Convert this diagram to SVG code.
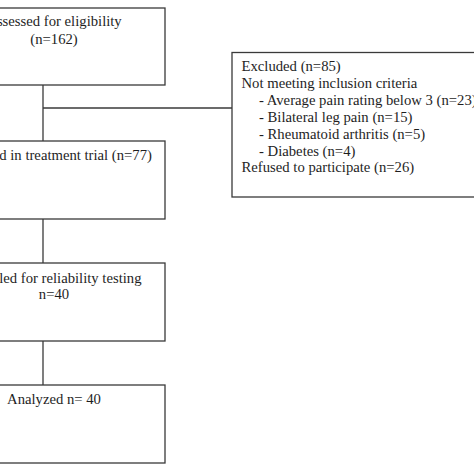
<svg xmlns="http://www.w3.org/2000/svg" width="474" height="474" viewBox="0 0 474 474">
<style>
.box{fill:#fff;stroke:#3a3a3a;stroke-width:1.3}
.ln{fill:none;stroke:#3a3a3a;stroke-width:1.3}
text{font-family:"Liberation Serif","Times New Roman",serif;font-size:14.7px;fill:#1e1e1e}
.c{text-anchor:middle}
</style>
<rect width="474" height="474" fill="#fff"/>
<g id="connectors">
<line class="ln" x1="43" y1="85" x2="43" y2="141"/>
<line class="ln" x1="43" y1="108" x2="232" y2="108"/>
<line class="ln" x1="43" y1="219" x2="43" y2="263"/>
<line class="ln" x1="43" y1="341" x2="43" y2="385"/>
</g>
<g id="assessed">
<rect class="box" x="-57" y="8" width="222" height="77"/>
<text class="c" x="54" y="25.5">Assessed for eligibility</text>
<text class="c" x="54" y="43.5">(n=162)</text>
</g>
<g id="excluded">
<rect class="box" x="232" y="52.5" width="260" height="144.5"/>
<text x="241.5" y="70.7">Excluded (n=85)</text>
<text x="241.5" y="87.7">Not meeting inclusion criteria</text>
<text x="259" y="104.8">- Average pain rating below 3 (n=23)</text>
<text x="259" y="121.7">- Bilateral leg pain (n=15)</text>
<text x="259" y="138.7">- Rheumatoid arthritis (n=5)</text>
<text x="259" y="155.6">- Diabetes (n=4)</text>
<text x="241.5" y="172.4">Refused to participate (n=26)</text>
</g>
<g id="enrolled-trial">
<rect class="box" x="-57" y="141" width="222" height="78"/>
<text class="c" x="54" y="160">Enrolled in treatment trial (n=77)</text>
</g>
<g id="enrolled-reliability">
<rect class="box" x="-57" y="263" width="222" height="78"/>
<text class="c" x="54" y="282.7">Enrolled for reliability testing</text>
<text class="c" x="54" y="299.4">n=40</text>
</g>
<g id="analyzed">
<rect class="box" x="-57" y="385" width="222" height="78"/>
<text class="c" x="54" y="404">Analyzed n= 40</text>
</g>
</svg>
